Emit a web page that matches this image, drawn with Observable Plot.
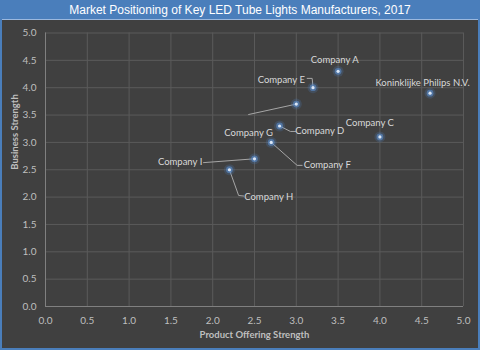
<!DOCTYPE html>
<html><head><meta charset="utf-8">
<script src="https://cdn.jsdelivr.net/npm/d3@7"></script>
<script src="https://cdn.jsdelivr.net/npm/@observablehq/plot@0.6"></script>
<style>
body{margin:0;background:#ffffff;}
#frame{position:relative;width:480px;height:350px;background:#404040;overflow:hidden;}
#title{position:absolute;left:0;top:0;width:480px;height:19px;background:#4a7ebb;border-bottom:1px solid #9bb8de;color:#ffffff;font-family:"Liberation Sans",Arial,sans-serif;font-size:12px;text-align:center;line-height:20px;}
#chart{position:absolute;left:0;top:20px;}
#border{position:absolute;left:0;top:0;width:476px;height:346px;border:2px solid #4a7ebb;pointer-events:none;}
</style></head>
<body>
<div id="frame">
  <div id="title">Market Positioning of Key LED Tube Lights Manufacturers, 2017</div>
  <div id="chart"></div>
  <div id="border"></div>
</div>
<script>
const companies = ["Company A","Company E","Company G","Company D","Company F","Company I","Company H","Company C","Koninklijke Philips N.V."];
const productOffering = [3.5, 3.2, 3.0, 2.8, 2.7, 2.5, 2.2, 4.0, 4.6];
const businessStrength = [4.3, 4.0, 3.7, 3.3, 3.0, 2.7, 2.5, 3.1, 3.9];
const labelX = [3.46, 2.82, 2.43, 3.28, 3.37, 1.61, 2.67, 3.88, 4.51];
const labelY = [4.50, 4.15, 3.17, 3.21, 2.58, 2.65, 2.00, 3.36, 4.08];
const leaderCompany = ["Company E","Company E","Company G","Company D","Company D","Company F","Company F","Company I","Company H","Company H"];
const leaderX = [3.19, 3.13, 2.43, 2.93, 2.99, 3.01, 3.07, 1.89, 2.31, 2.37];
const leaderY = [4.17, 4.17, 3.51, 3.20, 3.20, 2.58, 2.58, 2.63, 2.03, 2.02];
const xTicks = [0.0, 0.5, 1.0, 1.5, 2.0, 2.5, 3.0, 3.5, 4.0, 4.5, 5.0];
const yTicks = [0.0, 0.5, 1.0, 1.5, 2.0, 2.5, 3.0, 3.5, 4.0, 4.5, 5.0];
const xTitle = "Product Offering Strength";
const yTitle = "Business Strength";

const pts = companies.map((c, i) => ({name: c, x: productOffering[i], y: businessStrength[i], lx: labelX[i], ly: labelY[i]}));
const leaders = [];
companies.forEach((c, i) => {
  const idx = leaderCompany.map((n, j) => n === c ? j : -1).filter(j => j >= 0);
  if (!idx.length) return;
  leaders.push({name: c, x: productOffering[i], y: businessStrength[i]});
  idx.forEach(j => leaders.push({name: c, x: leaderX[j], y: leaderY[j]}));
});

const chart = Plot.plot({
  width: 480, height: 330,
  marginLeft: 45, marginRight: 17, marginTop: 12.5, marginBottom: 44,
  style: {background: "transparent", fontFamily: "Lato, sans-serif", fontSize: "10px", color: "#bfbfbf"},
  x: {domain: [0, 5]},
  y: {domain: [0, 5]},
  marks: [
    Plot.gridX(xTicks, {stroke: "#5a5a5a", strokeOpacity: 1}),
    Plot.gridY(yTicks, {stroke: "#5a5a5a", strokeOpacity: 1}),
    Plot.ruleY([0], {stroke: "#808080"}),
    Plot.ruleX([0], {stroke: "#808080"}),
    Plot.axisX(xTicks, {tickSize: 0, tickPadding: 10, tickFormat: d3.format(".1f"), label: null, fontSize: 10}),
    Plot.axisY(yTicks, {tickSize: 0, tickPadding: 9, tickFormat: d3.format(".1f"), label: null, fontSize: 10}),
    Plot.text([xTitle], {frameAnchor: "bottom", dy: 31, text: d => d, fontWeight: "bold", fontSize: 9.5, fill: "#bfbfbf"}),
    Plot.text([yTitle], {frameAnchor: "left", dx: -30.5, rotate: -90, text: d => d, fontWeight: "bold", fontSize: 9.5, fill: "#bfbfbf"}),
    Plot.line(leaders, {x: "x", y: "y", z: "name", stroke: "#a6a6a6", strokeWidth: 1}),
    Plot.dot(pts, {x: "x", y: "y", r: 5.5, fill: "#4f81bd", fillOpacity: 0.22}),
    Plot.dot(pts, {x: "x", y: "y", r: 3.4, fill: "#5b8fd0", fillOpacity: 0.6}),
    Plot.dot(pts, {x: "x", y: "y", r: 1.6, fill: "#dbe7f6"}),
    Plot.text(pts, {x: "lx", y: "ly", text: "name", fill: "#d9d9d9", fontSize: 9.5})
  ]
});
document.getElementById("chart").appendChild(chart);
</script>
</body></html>
